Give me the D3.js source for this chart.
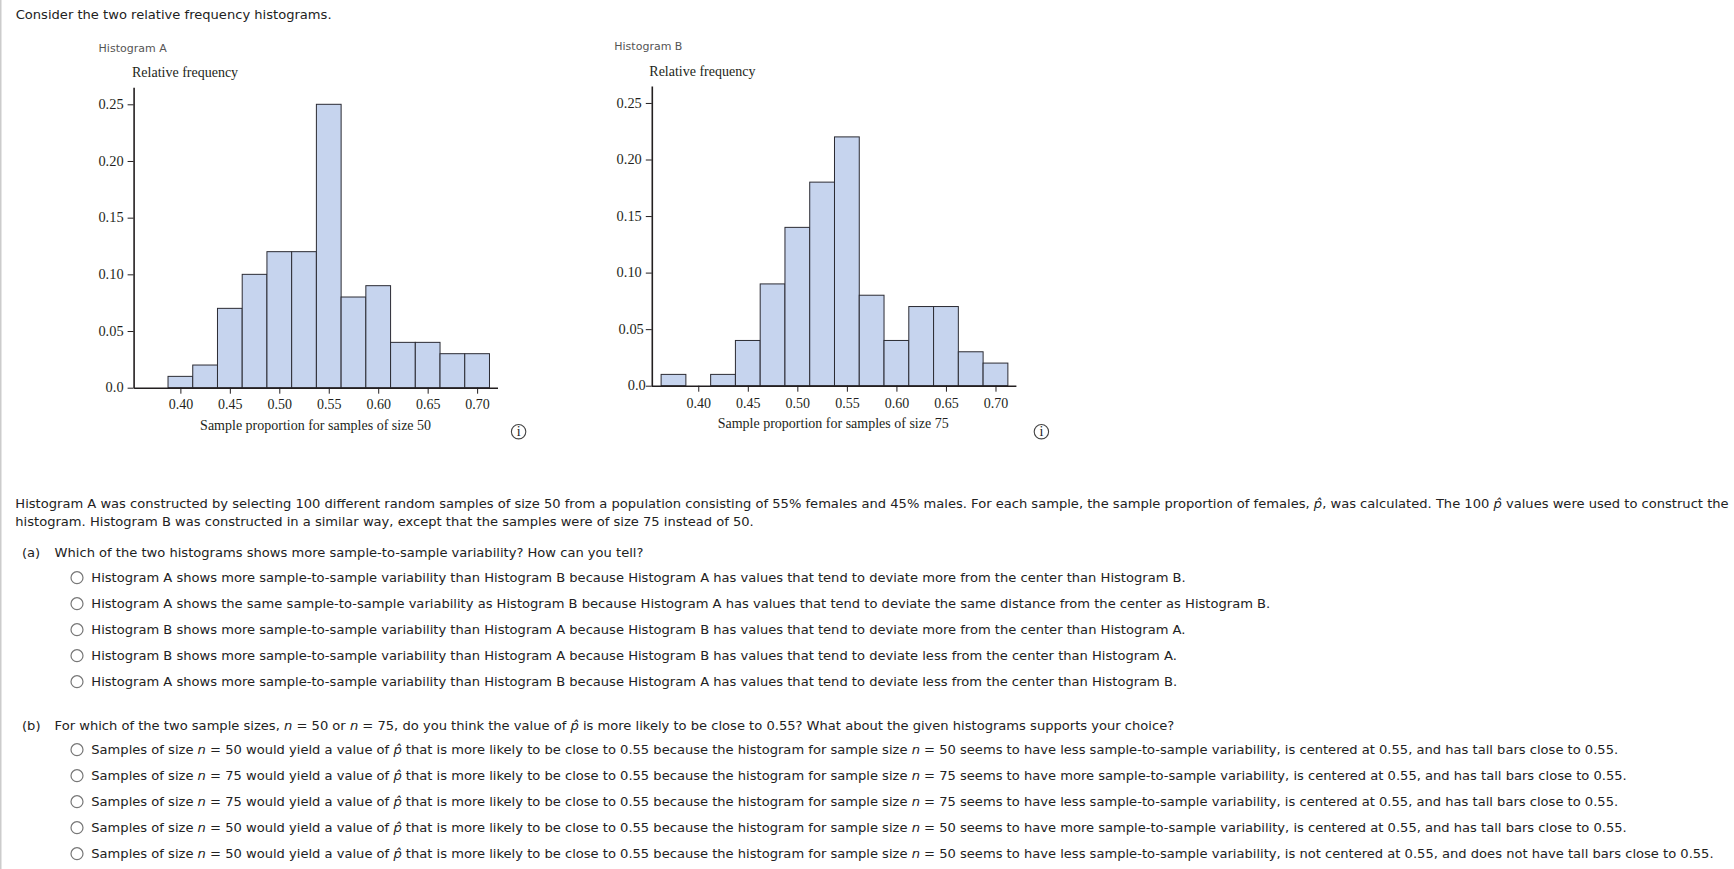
<!DOCTYPE html>
<html>
<head>
<meta charset="utf-8">
<script src="https://cdn.jsdelivr.net/npm/d3@7"></script>
<style>
  html, body { margin: 0; padding: 0; background: #fff; overflow: hidden; }
  .body-text { font-family: "DejaVu Sans", sans-serif; font-size: 13.08px; fill: #222; }
  .hist-name { font-family: "DejaVu Sans", sans-serif; font-size: 11px; fill: #555; }
  .chart-text, .tick text { font-family: "Liberation Serif", serif; font-size: 14px; fill: #231f20; }
  .y-axis .tick text { font-size: 14.4px; }
</style>
</head>
<body>
<svg id="page" width="1734" height="869"></svg>
<script>
// histogram data
var binWidth = 0.025;
var binStartsA = [0.3875, 0.4125, 0.4375, 0.4625, 0.4875, 0.5125, 0.5375, 0.5625, 0.5875, 0.6125, 0.6375, 0.6625, 0.6875];
var valuesA = [0.01, 0.02, 0.07, 0.10, 0.12, 0.12, 0.25, 0.08, 0.09, 0.04, 0.04, 0.03, 0.03];
var binStartsB = [0.3625, 0.3875, 0.4125, 0.4375, 0.4625, 0.4875, 0.5125, 0.5375, 0.5625, 0.5875, 0.6125, 0.6375, 0.6625, 0.6875];
var valuesB = [0.01, 0, 0.01, 0.04, 0.09, 0.14, 0.18, 0.22, 0.08, 0.04, 0.07, 0.07, 0.03, 0.02];
var xTicks = [0.40, 0.45, 0.50, 0.55, 0.60, 0.65, 0.70];
var yTicks = [0, 0.05, 0.10, 0.15, 0.20, 0.25];
var xDomain = [0.3527, 0.7206];
var yDomain = [0, 0.265];

// question text, *x* marks italic
var introLine = "Consider the two relative frequency histograms.";
var paragraph = [
  "Histogram A was constructed by selecting 100 different random samples of size 50 from a population consisting of 55% females and 45% males. For each sample, the sample proportion of females, *p̂*, was calculated. The 100 *p̂* values were used to construct the",
  "histogram. Histogram B was constructed in a similar way, except that the samples were of size 75 instead of 50."
];
var questionA = "Which of the two histograms shows more sample-to-sample variability? How can you tell?";
var optionsA = [
  "Histogram A shows more sample-to-sample variability than Histogram B because Histogram A has values that tend to deviate more from the center than Histogram B.",
  "Histogram A shows the same sample-to-sample variability as Histogram B because Histogram A has values that tend to deviate the same distance from the center as Histogram B.",
  "Histogram B shows more sample-to-sample variability than Histogram A because Histogram B has values that tend to deviate more from the center than Histogram A.",
  "Histogram B shows more sample-to-sample variability than Histogram A because Histogram B has values that tend to deviate less from the center than Histogram A.",
  "Histogram A shows more sample-to-sample variability than Histogram B because Histogram A has values that tend to deviate less from the center than Histogram B."
];
var questionB = "For which of the two sample sizes, *n* = 50 or *n* = 75, do you think the value of *p̂* is more likely to be close to 0.55? What about the given histograms supports your choice?";
var optionsB = [
  "Samples of size *n* = 50 would yield a value of *p̂* that is more likely to be close to 0.55 because the histogram for sample size *n* = 50 seems to have less sample-to-sample variability, is centered at 0.55, and has tall bars close to 0.55.",
  "Samples of size *n* = 75 would yield a value of *p̂* that is more likely to be close to 0.55 because the histogram for sample size *n* = 75 seems to have more sample-to-sample variability, is centered at 0.55, and has tall bars close to 0.55.",
  "Samples of size *n* = 75 would yield a value of *p̂* that is more likely to be close to 0.55 because the histogram for sample size *n* = 75 seems to have less sample-to-sample variability, is centered at 0.55, and has tall bars close to 0.55.",
  "Samples of size *n* = 50 would yield a value of *p̂* that is more likely to be close to 0.55 because the histogram for sample size *n* = 50 seems to have more sample-to-sample variability, is centered at 0.55, and has tall bars close to 0.55.",
  "Samples of size *n* = 50 would yield a value of *p̂* that is more likely to be close to 0.55 because the histogram for sample size *n* = 50 seems to have less sample-to-sample variability, is not centered at 0.55, and does not have tall bars close to 0.55."
];

var svg = d3.select("#page");

// thin grey rule down the left edge of the page
svg.append("rect").attr("x", 0).attr("y", 0).attr("width", 1.5).attr("height", 869).attr("fill", "#ccc");

function bodyText(str, x, y) {
  var t = svg.append("text").attr("class", "body-text").attr("x", x).attr("y", y).attr("dy", "0.36em");
  str.split("*").forEach(function (part, i) {
    t.append("tspan").text(part).style("font-style", i % 2 ? "italic" : "normal");
  });
}

function radio(x, y) {
  svg.append("circle").attr("cx", x).attr("cy", y).attr("r", 6)
    .attr("fill", "#fff").attr("stroke", "#777").attr("stroke-width", 1.2);
}

function infoIcon(x, y) {
  svg.append("circle").attr("cx", x).attr("cy", y).attr("r", 7.2)
    .attr("fill", "none").attr("stroke", "#444").attr("stroke-width", 1.1);
  svg.append("text").attr("x", x).attr("y", y).attr("dy", "0.34em").attr("text-anchor", "middle")
    .style("font-family", "Liberation Serif").style("font-size", "14px").style("fill", "#222").text("i");
}

function histogram(cfg) {
  var x = d3.scaleLinear().domain(xDomain).range([cfg.left, cfg.right]);
  var y = d3.scaleLinear().domain(yDomain).range([cfg.bottom, cfg.top]);

  svg.append("g").selectAll("rect")
    .data(cfg.starts.map(function (s, i) { return { start: s, value: cfg.values[i] }; }).filter(function (d) { return d.value > 0; }))
    .join("rect")
    .attr("x", function (d) { return x(d.start); })
    .attr("y", function (d) { return y(d.value); })
    .attr("width", function (d) { return x(d.start + binWidth) - x(d.start); })
    .attr("height", function (d) { return y(0) - y(d.value); })
    .attr("fill", "#c6d4ee")
    .attr("stroke", "#2b2b33")
    .attr("stroke-width", 1);

  var xAxis = d3.axisBottom(x).tickValues(xTicks).tickFormat(d3.format(".2f")).tickSize(6).tickSizeOuter(0).tickPadding(cfg.xPad);
  var yAxis = d3.axisLeft(y).tickValues(yTicks).tickSize(6).tickSizeOuter(0).tickPadding(4)
    .tickFormat(function (d) { return d === 0 ? "0.0" : d3.format(".2f")(d); });

  var gx = svg.append("g").attr("transform", "translate(0," + cfg.bottom + ")").call(xAxis);
  var gy = svg.append("g").attr("class", "y-axis").attr("transform", "translate(" + cfg.axisX + ",0)").call(yAxis);
  gx.select(".domain").attr("stroke", "#231f20").attr("stroke-width", 1.6);
  gy.select(".domain").attr("stroke", "#231f20").attr("stroke-width", 1.6);
  gx.selectAll(".tick line").attr("stroke", "#231f20");
  gy.selectAll(".tick line").attr("stroke", "#231f20");
  gy.selectAll(".tick text").attr("dx", function (d) { return cfg.labelNudge(d); }).attr("dy", "0.28em");

  svg.append("text").attr("class", "hist-name").attr("x", cfg.nameX).attr("y", cfg.nameY).attr("dy", "0.36em").text(cfg.name);
  svg.append("text").attr("class", "chart-text").attr("x", cfg.yTitleX).attr("y", cfg.yTitleY).attr("dy", "0.32em").text("Relative frequency");
  svg.append("text").attr("class", "chart-text").attr("x", cfg.xTitleX).attr("y", cfg.xTitleY).attr("dy", "0.32em")
    .attr("text-anchor", "middle").text(cfg.xTitle);
  infoIcon(cfg.iconX, 431.7);
}

histogram({
  name: "Histogram A", xTitle: "Sample proportion for samples of size 50",
  starts: binStartsA, values: valuesA,
  left: 133.6, right: 497.5, axisX: 133.6, top: 87.3, bottom: 387.7, xPad: 5,
  nameX: 98.6, nameY: 48.3, yTitleX: 132, yTitleY: 72.6, xTitleX: 315.6, xTitleY: 425.4, iconX: 518.6,
  labelNudge: function () { return 0; }
});

histogram({
  name: "Histogram B", xTitle: "Sample proportion for samples of size 75",
  starts: binStartsB, values: valuesB,
  left: 651.4, right: 1015.9, axisX: 651.8, top: 86, bottom: 385.7, xPad: 6,
  nameX: 614.3, nameY: 46.3, yTitleX: 649.3, yTitleY: 71.3, xTitleX: 833.2, xTitleY: 423.3, iconX: 1041.4,
  labelNudge: function (d) { return d === 0 ? 4 : d === 0.05 ? 2 : 0; }
});

bodyText(introLine, 15.7, 14.7);
paragraph.forEach(function (line, i) { bodyText(line, 15.3, 503.7 + i * 18); });

bodyText("(a)", 22, 552.7);
bodyText(questionA, 54.6, 552.7);
optionsA.forEach(function (opt, i) {
  radio(77, 577.7 + i * 26);
  bodyText(opt, 91.3, 577.7 + i * 26);
});

bodyText("(b)", 22, 725.7);
bodyText(questionB, 54.6, 725.7);
optionsB.forEach(function (opt, i) {
  radio(77, 749.7 + i * 26);
  bodyText(opt, 91.3, 749.7 + i * 26);
});
</script>
</body>
</html>
